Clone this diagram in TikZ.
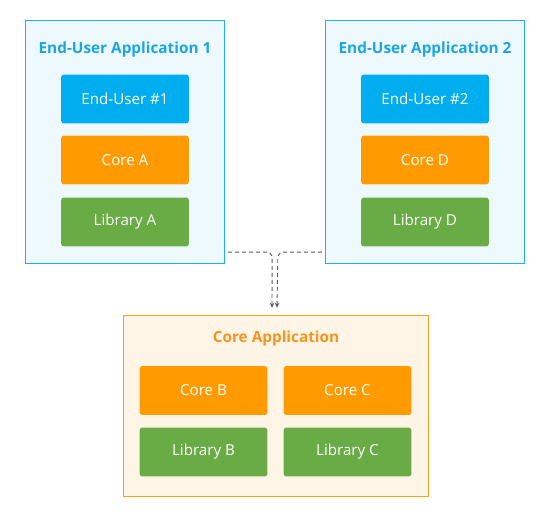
\documentclass[tikz,border=0pt]{standalone}
\usepackage{fontspec}
\setmainfont{Open Sans}
\usetikzlibrary{calc,arrows.meta}
\definecolor{cblue}{HTML}{00AEEF}
\definecolor{ctitleblue}{HTML}{1AA6E3}
\definecolor{cbluebg}{HTML}{EEF9FE}
\definecolor{cborderblue}{HTML}{22AEE6}
\definecolor{corange}{HTML}{FF9B00}
\definecolor{ctitleorange}{HTML}{F7941D}
\definecolor{corangebg}{HTML}{FEF5E6}
\definecolor{cborderorange}{HTML}{F7A01E}
\definecolor{cgreen}{HTML}{69AC45}
\definecolor{cline}{HTML}{555D62}
\tikzset{
  bluecont/.style={draw=cborderblue, fill=cbluebg, line width=1.1pt, minimum width=200, minimum height=244, inner sep=0},
  orangecont/.style={draw=cborderorange, fill=corangebg, line width=1.1pt, minimum width=306, minimum height=182, inner sep=0},
  inbox/.style={rounded corners=2.5pt, minimum width=128, minimum height=49, inner sep=0, text=white, font=\fontsize{15.2}{17}\selectfont},
  euser/.style={inbox, fill=cblue},
  corebox/.style={inbox, fill=corange},
  libbox/.style={inbox, fill=cgreen},
  ctitle/.style={font=\fontsize{15.4}{17}\selectfont\bfseries, inner sep=0},
  conn/.style={draw=cline, line width=0.9pt, dash pattern=on 4pt off 3pt, -{Stealth[length=5pt,width=4.5pt]}},
}
\begin{document}
\begin{tikzpicture}[x=1bp,y=-1bp]
\path[use as bounding box, fill=white] (0,0) rectangle (550,518);
% containers
\node[bluecont] (L) at (125,142) {};
\node[bluecont] (R) at (425,142) {};
\node[orangecont] (C) at (276,406) {};
% titles
\node[ctitle, text=ctitleblue] (Lt) at (125,49.5) {End-User Application 1};
\node[ctitle, text=ctitleblue] (Rt) at (425,49.5) {End-User Application 2};
\node[ctitle, text=ctitleorange] (Ct) at (276,338.5) {Core Application};
% left boxes
\node[euser] (e1) at (125,99) {\raisebox{-1bp}{End-User \#1}};
\node[corebox] (ca) at (125,160) {\raisebox{-1bp}{Core A}};
\node[libbox] (la) at (125,222) {\raisebox{-1bp}{Library A}};
% right boxes
\node[euser] (e2) at (425,99) {\raisebox{-1bp}{End-User \#2}};
\node[corebox] (cd) at (425,160) {\raisebox{-1bp}{Core D}};
\node[libbox] (ld) at (425,222) {\raisebox{-1bp}{Library D}};
% core app boxes
\node[corebox] (cb) at (203.5,390.5) {\raisebox{-1bp}{Core B}};
\node[corebox] (cc) at (347.5,390.5) {\raisebox{-1bp}{Core C}};
\node[libbox] (lb) at (203.5,452) {\raisebox{-1bp}{Library B}};
\node[libbox] (lc) at (347.5,452) {\raisebox{-1bp}{Library C}};
% connectors
\coordinate (a1) at ($(C.north)+(-4,-7)$);
\coordinate (a2) at ($(C.north)+(1,-7)$);
\draw[conn] ($(L.south east)+(3,-12)$) -- ($(L.south east)+(44,-12)$) -- ($(L.south east)+(47,-8)$) -- (a1);
\draw[conn] ($(R.south west)+(-3,-12)$) -- ($(R.south west)+(-44,-12)$) -- ($(R.south west)+(-47,-8)$) -- (a2);
\end{tikzpicture}
\end{document}
